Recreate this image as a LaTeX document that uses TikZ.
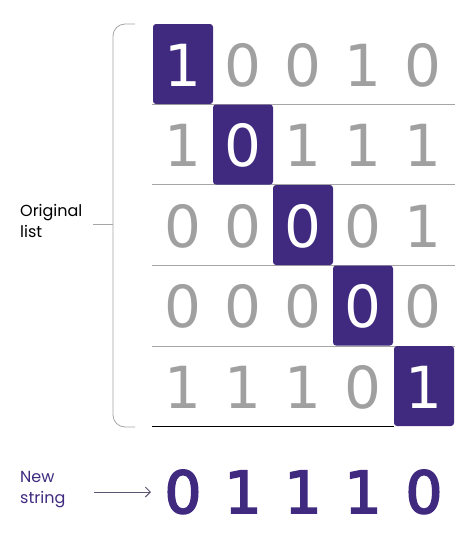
\documentclass[tikz,border=0pt]{standalone}
\usepackage{fontspec}
\setmainfont{DejaVu Sans}
\newfontfamily\labelfont{Poppins}
\newfontfamily\newdigfont[FakeBold=3.2]{DejaVu Sans}
\usetikzlibrary{arrows.meta}
\definecolor{boxpurple}{RGB}{63,42,128}
\definecolor{digitgray}{RGB}{160,160,160}
\definecolor{rulegray}{RGB}{165,165,165}
\definecolor{arrowgray}{RGB}{92,84,112}
\tikzset{
  hibox/.style={fill=boxpurple, rounded corners=3pt, minimum width=60pt, minimum height=80pt, inner sep=0pt},
  dig/.style={font=\fontsize{58}{60}\selectfont, text=digitgray, anchor=base, inner sep=0pt},
  hidig/.style={dig, text=white},
  newdig/.style={font=\newdigfont\fontsize{58}{60}\selectfont, text=boxpurple, anchor=base, inner sep=0pt},
  lbl/.style={font=\labelfont\fontsize{16}{21}\selectfont, align=left, anchor=north west, inner sep=0pt},
  sep/.style={draw=rulegray, line width=0.8pt},
}
\begin{document}
\begin{tikzpicture}[x=1pt,y=-1pt]
\useasboundingbox (0,0) rectangle (474,541);
% separator lines
\draw[sep] (152,104) -- (455,104);
\draw[sep] (152,184.5) -- (455,184.5);
\draw[sep] (152,265) -- (455,265);
\draw[sep] (152,346) -- (455,346);
\draw[line width=1.2pt] (152,426.5) -- (394,426.5);
% highlight boxes
\node[hibox] (b1) at (183,64) {};
\node[hibox] (b2) at (243,144.5) {};
\node[hibox] (b3) at (303,225) {};
\node[hibox] (b4) at (363,305.5) {};
\node[hibox] (b5) at (424,386) {};
% row 1
\node[hidig] (r1c1) at (183,86) {1};
\node[dig] (r1c2) at (243,86) {0};
\node[dig] (r1c3) at (303,86) {0};
\node[dig] (r1c4) at (363,86) {1};
\node[dig] (r1c5) at (423,86) {0};
% row 2
\node[dig] (r2c1) at (183,166.5) {1};
\node[hidig] (r2c2) at (243,166.5) {0};
\node[dig] (r2c3) at (303,166.5) {1};
\node[dig] (r2c4) at (363,166.5) {1};
\node[dig] (r2c5) at (423,166.5) {1};
% row 3
\node[dig] (r3c1) at (183,247) {0};
\node[dig] (r3c2) at (243,247) {0};
\node[hidig] (r3c3) at (303,247) {0};
\node[dig] (r3c4) at (363,247) {0};
\node[dig] (r3c5) at (423,247) {1};
% row 4
\node[dig] (r4c1) at (183,327.5) {0};
\node[dig] (r4c2) at (243,327.5) {0};
\node[dig] (r4c3) at (303,327.5) {0};
\node[hidig] (r4c4) at (363,327.5) {0};
\node[dig] (r4c5) at (423,327.5) {0};
% row 5
\node[dig] (r5c1) at (183,408) {1};
\node[dig] (r5c2) at (243,408) {1};
\node[dig] (r5c3) at (303,408) {1};
\node[dig] (r5c4) at (363,408) {0};
\node[hidig] (r5c5) at (424,408) {1};
% bracket
\draw[rulegray, line width=0.8pt, rounded corners=12pt] (135,24) -| (113,427) -- (135,427);
\draw[rulegray, line width=0.8pt] (93,224) -- (113,224);
% labels
\node[lbl] (orig) at (20,204.5) {Original\\list};
\node[lbl, text=boxpurple] (newstr) at (20,471.5) {New\\string};
% new string
\node[newdig] (n1) at (183,513) {0};
\node[newdig] (n2) at (243,513) {1};
\node[newdig] (n3) at (303,513) {1};
\node[newdig] (n4) at (363,513) {1};
\node[newdig] (n5) at (424,513) {0};
\coordinate (arrstart) at (94,492);
\coordinate (arrend) at (151,492);
\draw[arrowgray, line width=0.9pt, -{Straight Barb[length=5pt,width=10pt]}] (arrstart) -- (arrend);
\end{tikzpicture}
\end{document}
